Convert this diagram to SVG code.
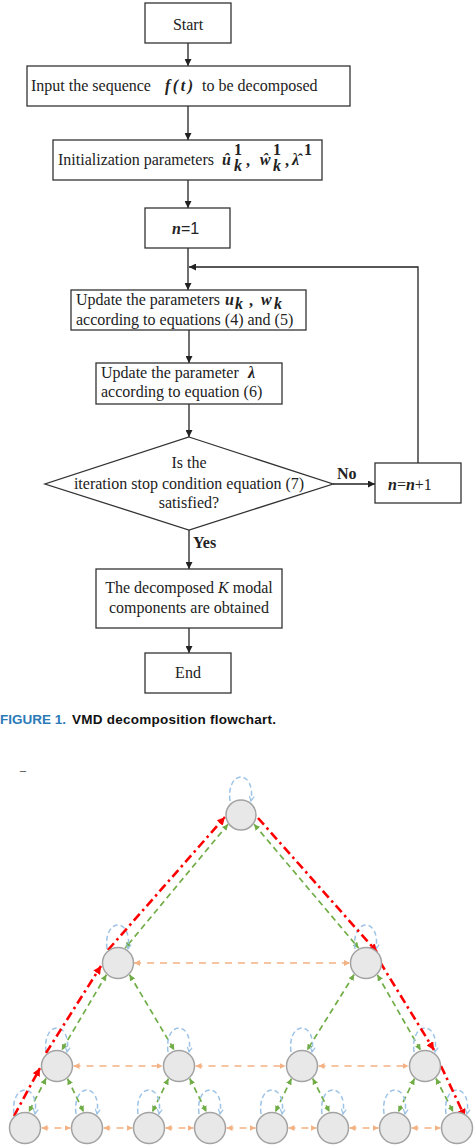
<svg xmlns="http://www.w3.org/2000/svg" width="474" height="1145" viewBox="0 0 474 1145">
<style>
.box{fill:#fff;stroke:#333;stroke-width:1.3}
.t{font-family:"Liberation Serif","Times New Roman",serif;font-size:16px;fill:#222}
.tc{text-anchor:middle}
.bi{font-weight:bold;font-style:italic}
.fl{stroke:#222;stroke-width:1.3;fill:none;marker-end:url(#ab)}
.nd{fill:#E8E8E8;stroke:#A3A3A3;stroke-width:1.5}
.gr{stroke:#70AD47;stroke-width:1.7;stroke-dasharray:6 4;fill:none;marker-start:url(#ag);marker-end:url(#ag)}
.rd{stroke:#FF0000;stroke-width:2.6;stroke-dasharray:9 4 2.5 4;fill:none;marker-end:url(#ar)}
.bl{stroke:#9DC3E6;stroke-width:1.5;stroke-dasharray:5 3;fill:none;marker-end:url(#abl)}
.or{stroke:#F4B183;stroke-width:1.7;stroke-dasharray:7 6;fill:none;marker-start:url(#ao);marker-end:url(#ao)}
.cap{font-family:"Liberation Sans",Arial,sans-serif;font-weight:bold;font-size:13.5px}
</style>
<defs>
<marker id="ab" viewBox="0 0 10 10" refX="10" refY="5" markerWidth="7" markerHeight="7" markerUnits="userSpaceOnUse" orient="auto"><path d="M0,0 L10,5 L0,10 z" fill="#222"/></marker>
<marker id="ag" viewBox="0 0 10 10" refX="10" refY="5" markerWidth="6" markerHeight="6" markerUnits="userSpaceOnUse" orient="auto-start-reverse"><path d="M0,0 L10,5 L0,10 z" fill="#70AD47"/></marker>
<marker id="ar" viewBox="0 0 10 10" refX="10" refY="5" markerWidth="8" markerHeight="8" markerUnits="userSpaceOnUse" orient="auto"><path d="M0,0 L10,5 L0,10 z" fill="#FF0000"/></marker>
<marker id="abl" viewBox="0 0 10 10" refX="9" refY="5" markerWidth="6" markerHeight="6" markerUnits="userSpaceOnUse" orient="auto"><path d="M1,1 L9,5 L1,9" fill="none" stroke="#9DC3E6" stroke-width="2"/></marker>
<marker id="ao" viewBox="0 0 10 10" refX="10" refY="5" markerWidth="6" markerHeight="6" markerUnits="userSpaceOnUse" orient="auto-start-reverse"><path d="M0,0 L10,5 L0,10 z" fill="#F4B183"/></marker>
</defs>
<rect width="474" height="1145" fill="#fff"/>

<g id="connectors">
<line class="fl" x1="188" y1="43" x2="188" y2="66"/>
<line class="fl" x1="188" y1="106" x2="188" y2="140"/>
<line class="fl" x1="188" y1="180" x2="188" y2="208"/>
<line class="fl" x1="188" y1="248" x2="188" y2="290"/>
<line class="fl" x1="189" y1="330" x2="189" y2="363"/>
<line class="fl" x1="189" y1="404" x2="189" y2="437"/>
<line class="fl" x1="333" y1="484" x2="375" y2="484"/>
<polyline class="fl" points="418,463 418,267 189,267"/>
<line class="fl" x1="189" y1="530" x2="189" y2="569"/>
<line class="fl" x1="189" y1="628" x2="189" y2="653"/>
</g>

<g id="flow-labels">
<text class="t" x="337" y="479" font-weight="bold" font-size="17">No</text>
<text class="t" x="193" y="548" font-weight="bold" font-size="17">Yes</text>
</g>

<g id="start"><rect class="box" x="145" y="3" width="86" height="40"/><text class="t tc" x="188" y="30" font-size="20">Start</text></g>
<g id="input"><rect class="box" x="27" y="66" width="323" height="40"/>
<text class="t" x="31" y="91">Input the sequence</text>
<text class="t bi" x="165" y="91" font-size="18" textLength="28">f(t)</text>
<text class="t" x="202" y="91">to be decomposed</text></g>
<g id="init"><rect class="box" x="53" y="140" width="269" height="40"/>
<text class="t" x="58" y="165">Initialization parameters</text>
<text class="t bi" x="222" y="165" font-size="17">û</text>
<text class="t bi" x="234" y="171" font-size="9">k</text>
<text class="t" x="234" y="155" font-size="9" font-weight="bold">1</text>
<text class="t" x="246" y="166" font-weight="bold">,</text>
<text class="t bi" x="260" y="165" font-size="17">ŵ</text>
<text class="t bi" x="273" y="171" font-size="9">k</text>
<text class="t" x="273" y="155" font-size="9" font-weight="bold">1</text>
<text class="t" x="285" y="166" font-weight="bold">,</text>
<text class="t bi" x="292" y="165" font-size="15" font-family="'DejaVu Serif',serif">λ̂</text>
<text class="t" x="304" y="155" font-size="9" font-weight="bold">1</text></g>
<g id="n1"><rect class="box" x="145" y="208" width="85" height="40"/>
<text class="t" x="172" y="234" font-size="17"><tspan class="bi">n</tspan><tspan font-family="'Liberation Sans',Arial,sans-serif">=1</tspan></text></g>
<g id="update-uw"><rect class="box" x="71" y="290" width="235" height="40"/>
<text class="t" x="76" y="305">Update the parameters</text>
<text class="t bi" x="225" y="305" font-size="17">u</text>
<text class="t bi" x="235" y="309" font-size="10">k</text>
<text class="t" x="249" y="306" font-weight="bold">,</text>
<text class="t bi" x="261" y="305" font-size="17">w</text>
<text class="t bi" x="274" y="309" font-size="10">k</text>
<text class="t" x="76" y="325">according to equations (4) and (5)</text></g>
<g id="update-lambda"><rect class="box" x="96" y="363" width="186" height="41"/>
<text class="t" x="101" y="378">Update the parameter</text>
<text class="t bi" x="248" y="378" font-size="17">λ</text>
<text class="t" x="101" y="397">according to equation (6)</text></g>
<g id="decision"><polygon class="box" points="189,437 333,484 189,530 45,484"/>
<text class="t tc" x="189" y="468">Is the</text>
<text class="t tc" x="189" y="489">iteration stop condition equation (7)</text>
<text class="t tc" x="189" y="508">satisfied?</text></g>
<g id="nn1"><rect class="box" x="375" y="463" width="86" height="40"/>
<text class="t" x="388" y="490" font-size="22"><tspan class="bi">n</tspan>=<tspan class="bi">n</tspan>+1</text></g>
<g id="result"><rect class="box" x="96" y="569" width="186" height="59"/>
<text class="t tc" x="189" y="593">The decomposed <tspan font-style="italic">K</tspan> modal</text>
<text class="t tc" x="189" y="613">components are obtained</text></g>
<g id="end"><rect class="box" x="145" y="653" width="86" height="40"/><text class="t tc" x="188" y="678" font-size="20">End</text></g>

<g id="caption">
<text class="cap" x="0" y="724" fill="#2A7AB8" font-size="12">FIGURE 1.</text>
<text class="cap" x="72" y="724" fill="#111" textLength="204">VMD decomposition flowchart.</text>
<text x="20" y="774" font-family="'Liberation Sans',sans-serif" font-size="11" fill="#444">–</text>
</g>

<g id="tree-connectors">
<g id="tree-green">
<line class="gr" x1="228.04" y1="824.33" x2="125.12" y2="948.16"/>
<line class="gr" x1="254.04" y1="824.23" x2="358.76" y2="948.22"/>
<line class="gr" x1="106.42" y1="974.70" x2="61.70" y2="1050.21"/>
<line class="gr" x1="129.58" y1="974.70" x2="174.30" y2="1050.21"/>
<line class="gr" x1="354.17" y1="974.46" x2="307.03" y2="1050.32"/>
<line class="gr" x1="377.41" y1="974.87" x2="420.54" y2="1050.15"/>
<line class="gr" x1="46.12" y1="1078.36" x2="28.77" y2="1111.97"/>
<line class="gr" x1="67.56" y1="1078.64" x2="83.64" y2="1111.88"/>
<line class="gr" x1="168.44" y1="1078.64" x2="152.36" y2="1111.88"/>
<line class="gr" x1="189.72" y1="1078.50" x2="206.44" y2="1111.93"/>
<line class="gr" x1="291.44" y1="1078.64" x2="275.36" y2="1111.88"/>
<line class="gr" x1="312.72" y1="1078.50" x2="329.44" y2="1111.93"/>
<line class="gr" x1="414.44" y1="1078.64" x2="398.36" y2="1111.88"/>
<line class="gr" x1="435.88" y1="1078.36" x2="453.23" y2="1111.97"/>
</g>
<g id="tree-orange">
<line class="or" x1="134" y1="963" x2="350" y2="963"/>
<line class="or" x1="73.5" y1="1066" x2="162.5" y2="1066"/>
<line class="or" x1="195.5" y1="1066" x2="285.5" y2="1066"/>
<line class="or" x1="318.5" y1="1066" x2="408.5" y2="1066"/>
<line class="or" x1="41.5" y1="1128" x2="70.5" y2="1128"/>
<line class="or" x1="103.5" y1="1128" x2="132.5" y2="1128"/>
<line class="or" x1="165.5" y1="1128" x2="193.5" y2="1128"/>
<line class="or" x1="226.5" y1="1128" x2="255.5" y2="1128"/>
<line class="or" x1="288.5" y1="1128" x2="316.5" y2="1128"/>
<line class="or" x1="349.5" y1="1128" x2="378.5" y2="1128"/>
<line class="or" x1="411.5" y1="1128" x2="440.5" y2="1128"/>
</g>
<g id="tree-blue">
<path class="bl" d="M230,801 C226,769 256,769 251,801"/>
<path class="bl" d="M107,949 C103,917 133,917 128,949"/>
<path class="bl" d="M355,949 C351,917 381,917 376,949"/>
<path class="bl" d="M46,1052 C42,1020 72,1020 67,1052"/>
<path class="bl" d="M168,1052 C164,1020 194,1020 189,1052"/>
<path class="bl" d="M291,1052 C287,1020 317,1020 312,1052"/>
<path class="bl" d="M414,1052 C410,1020 440,1020 435,1052"/>
<path class="bl" d="M14,1114 C10,1082 40,1082 35,1114"/>
<path class="bl" d="M76,1114 C72,1082 102,1082 97,1114"/>
<path class="bl" d="M138,1114 C134,1082 164,1082 159,1114"/>
<path class="bl" d="M199,1114 C195,1082 225,1082 220,1114"/>
<path class="bl" d="M261,1114 C257,1082 287,1082 282,1114"/>
<path class="bl" d="M322,1114 C318,1082 348,1082 343,1114"/>
<path class="bl" d="M384,1114 C380,1082 410,1082 405,1114"/>
<path class="bl" d="M446,1114 C442,1082 472,1082 467,1114"/>
</g>
<g id="tree-red">
<line class="rd" x1="14" y1="1116" x2="40" y2="1068"/>
<line class="rd" x1="46" y1="1053" x2="101" y2="966"/>
<line class="rd" x1="108" y1="950" x2="225" y2="817"/>
<line class="rd" x1="258" y1="818" x2="377" y2="952"/>
<line class="rd" x1="380" y1="962" x2="434" y2="1050"/>
<line class="rd" x1="441" y1="1066" x2="465" y2="1117"/>
</g>
</g>

<g id="node-top"><circle class="nd" cx="241" cy="815" r="15"/></g>
<g id="node-l2-1"><circle class="nd" cx="118" cy="963" r="15.5"/></g>
<g id="node-l2-2"><circle class="nd" cx="366" cy="963" r="15.5"/></g>
<g id="node-l3-1"><circle class="nd" cx="57" cy="1066" r="15.5"/></g>
<g id="node-l3-2"><circle class="nd" cx="179" cy="1066" r="15.5"/></g>
<g id="node-l3-3"><circle class="nd" cx="302" cy="1066" r="15.5"/></g>
<g id="node-l3-4"><circle class="nd" cx="425" cy="1066" r="15.5"/></g>
<g id="node-l4-1"><circle class="nd" cx="25" cy="1128" r="15.5"/></g>
<g id="node-l4-2"><circle class="nd" cx="87" cy="1128" r="15.5"/></g>
<g id="node-l4-3"><circle class="nd" cx="149" cy="1128" r="15.5"/></g>
<g id="node-l4-4"><circle class="nd" cx="210" cy="1128" r="15.5"/></g>
<g id="node-l4-5"><circle class="nd" cx="272" cy="1128" r="15.5"/></g>
<g id="node-l4-6"><circle class="nd" cx="333" cy="1128" r="15.5"/></g>
<g id="node-l4-7"><circle class="nd" cx="395" cy="1128" r="15.5"/></g>
<g id="node-l4-8"><circle class="nd" cx="457" cy="1128" r="15.5"/></g>
</svg>
